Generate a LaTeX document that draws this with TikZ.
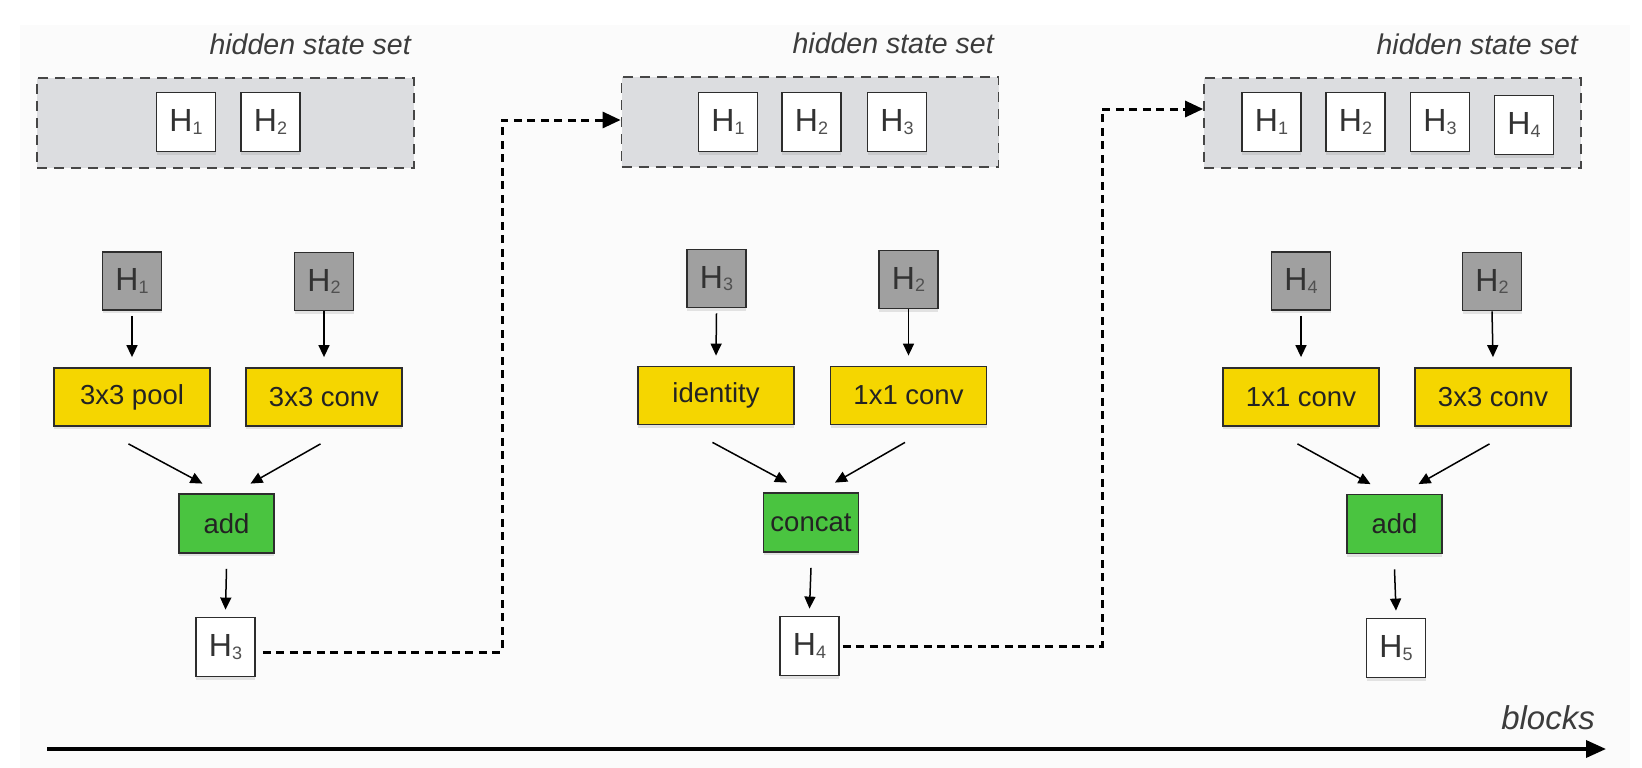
\documentclass[tikz,border=0pt]{standalone}
\usepackage{fontspec}
\setmainfont{Liberation Sans}
\usetikzlibrary{arrows.meta,shadows,calc}
\definecolor{setgray}{RGB}{220,221,224}
\definecolor{hgray}{RGB}{160,160,160}
\definecolor{opyellow}{RGB}{245,214,0}
\definecolor{opgreen}{RGB}{74,196,64}
\definecolor{edgec}{RGB}{45,45,45}
\definecolor{dashc}{RGB}{70,70,70}
\definecolor{txtc}{RGB}{35,35,35}
\definecolor{htxt}{RGB}{50,50,50}
\definecolor{subc}{RGB}{80,80,80}
\definecolor{titlec}{RGB}{60,60,60}
\definecolor{bgc}{RGB}{251,251,251}
\newcommand{\hsub}[1]{H\raisebox{-2.5pt}{\fontsize{18}{18}\selectfont\color{subc}#1}}
\begin{document}
\begin{tikzpicture}[x=1pt,y=-1pt,
  boxbase/.style={draw=edgec, line width=1.8pt, inner sep=0pt,
    drop shadow={shadow xshift=0pt, shadow yshift=-3pt, opacity=0.2}},
  hwhite/.style={boxbase, fill=white, minimum width=59pt, minimum height=59pt,
    font=\fontsize{32}{32}\selectfont, text=htxt},
  hgrey/.style={boxbase, fill=hgray, minimum width=59pt, minimum height=58pt,
    font=\fontsize{32}{32}\selectfont, text=htxt},
  opbox/.style={boxbase, fill=opyellow, minimum width=156pt, minimum height=58pt,
    font=\fontsize{27.5}{30}\selectfont, text=txtc},
  combbox/.style={boxbase, fill=opgreen, minimum width=95pt, minimum height=59pt,
    font=\fontsize{27.5}{30}\selectfont, text=txtc},
  setbox/.style={draw=dashc, line width=1.8pt, dash pattern=on 10pt off 7pt,
    fill=setgray, minimum width=377pt, minimum height=90pt, inner sep=0pt},
  settitle/.style={font=\fontsize{28.5}{30}\selectfont\itshape, text=titlec, anchor=base east, inner sep=0pt},
  arr/.style={line width=1.5pt, draw=black, -{Triangle[length=12pt,width=11pt]}},
  dasharr/.style={line width=3pt, dash pattern=on 8pt off 5.5pt, -{Triangle[length=18pt,width=16pt]}},
  axisarr/.style={line width=3.5pt, -{Triangle[length=20pt,width=17pt]}}
]
\useasboundingbox (0,0) rectangle (1642,768);
\fill[white] (0,0) rectangle (1642,768);
\fill[bgc] (20,25) rectangle (1630,768);

% ---------- block 1 ----------
\node[setbox] (s1) at (225.5,123) {};
\node[settitle] (t1) at (411,55) {hidden state set};
\node[hwhite] (s1a) at (186,122) {\hsub{1}};
\node[hwhite] (s1b) at (270.5,122) {\hsub{2}};
\node[hgrey] (g1a) at (132,281) {\hsub{1}};
\node[hgrey] (g1b) at (324,281.5) {\hsub{2}};
\node[opbox] (o1a) at (132,397) {3x3 pool};
\node[opbox] (o1b) at (324,397) {3x3 conv};
\node[combbox] (c1) at (226.5,523.5) {add};
\node[hwhite] (r1) at (225.5,647) {\hsub{3}};

% ---------- block 2 ----------
\node[setbox] (s2) at (810,122) {};
\node[settitle] (t2) at (994,54) {hidden state set};
\node[hwhite] (s2a) at (728,122) {\hsub{1}};
\node[hwhite] (s2b) at (811.5,122) {\hsub{2}};
\node[hwhite] (s2c) at (897,122) {\hsub{3}};
\node[hgrey] (g2a) at (716.5,278.5) {\hsub{3}};
\node[hgrey] (g2b) at (908.5,279.5) {\hsub{2}};
\node[opbox] (o2a) at (716,395.5) {identity};
\node[opbox] (o2b) at (908.5,395.5) {1x1 conv};
\node[combbox] (c2) at (811,522.5) {concat};
\node[hwhite] (r2) at (809.5,646) {\hsub{4}};

% ---------- block 3 ----------
\node[setbox] (s3) at (1392.5,123) {};
\node[settitle] (t3) at (1578,55) {hidden state set};
\node[hwhite] (s3a) at (1271.5,122) {\hsub{1}};
\node[hwhite] (s3b) at (1355.5,122) {\hsub{2}};
\node[hwhite] (s3c) at (1440,122) {\hsub{3}};
\node[hwhite] (s3d) at (1524,125) {\hsub{4}};
\node[hgrey] (g3a) at (1301,281) {\hsub{4}};
\node[hgrey] (g3b) at (1492,281.5) {\hsub{2}};
\node[opbox] (o3a) at (1301,397) {1x1 conv};
\node[opbox] (o3b) at (1493,397) {3x3 conv};
\node[combbox] (c3) at (1394.5,524) {add};
\node[hwhite] (r3) at (1396,648) {\hsub{5}};

% ---------- connectors ----------
\foreach \b in {1,2,3}{
  \draw[arr] ([yshift=-5pt]g\b a.south) -- ([yshift=10pt]o\b a.north);
  \draw[arr] (g\b b.south) -- ([yshift=10pt]o\b b.north);
  \draw[arr] ([xshift=-3.5pt,yshift=-17pt]o\b a.south) -- ([xshift=-24pt,yshift=9.5pt]c\b.north);
  \draw[arr] ([xshift=-3.5pt,yshift=-17pt]o\b b.south) -- ([xshift=24pt,yshift=9.5pt]c\b.north);
  \draw[arr] ([yshift=-15pt]c\b.south) -- ([yshift=7pt]r\b.north);
}

\coordinate (k1) at (502,120);
\draw[dasharr] ([xshift=7pt,yshift=-5pt]r1.east) -| (k1) -- (k1 -| s2.west);
\coordinate (k2) at (1102,109);
\draw[dasharr] ([xshift=3pt]r2.east) -| (k2) -- (k2 -| s3.west);

% ---------- axis ----------
\coordinate (ax0) at (47,749);
\coordinate (ax1) at (1606,749);
\draw[axisarr] (ax0) -- (ax1);
\node[anchor=base east, inner sep=0pt, font=\fontsize{33}{33}\selectfont\itshape, text=titlec] (bl) at (1595,729) {blocks};
\end{tikzpicture}
\end{document}
